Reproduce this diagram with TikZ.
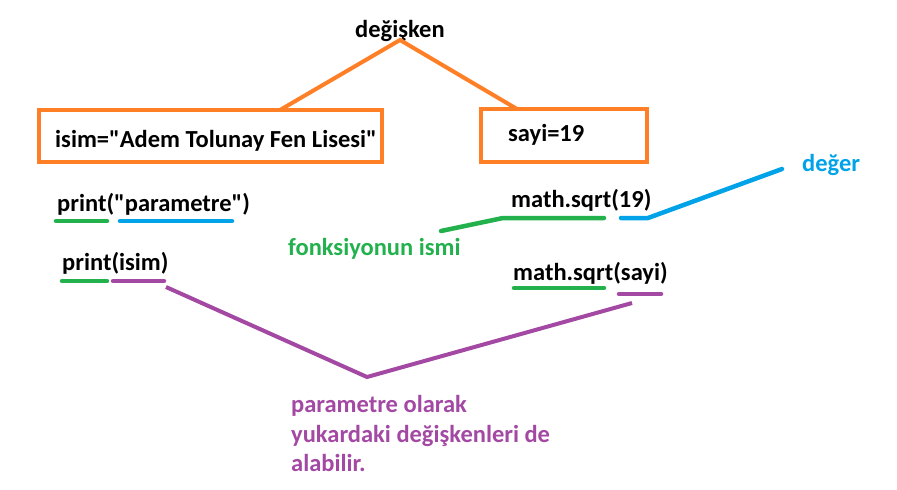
\documentclass[tikz,border=0pt]{standalone}
\usepackage{fontspec}
\setmainfont{Carlito}[Ligatures=TeXOff]
\definecolor{turuncu}{HTML}{FF7F27}
\definecolor{yesil}{HTML}{22B14C}
\definecolor{mavi}{HTML}{00A2E8}
\definecolor{mor}{HTML}{A349A4}

\begin{document}
\begin{tikzpicture}[x=1pt,y=-1pt,
	yazi/.style={font=\fontsize{24.5}{30}\selectfont\bfseries, inner sep=0pt, anchor=base west},
	kutu/.style={draw=turuncu, line width=4.5pt},
	cizgi/.style={line width=4.5pt, line cap=round, line join=round}]
			%%%%% START %%%%%
			\useasboundingbox[fill=white] (0,0) rectangle (897,490);
			
			% degisken ve kutular
			\node[yazi] (degisken) at (355,37) {değişken};
			\coordinate (tepe) at (400,40);
			\coordinate (kutuA1) at (39,110);
			\coordinate (kutuA2) at (382,162);
			\coordinate (kutuB1) at (481,109);
			\coordinate (kutuB2) at (647,162);
			\coordinate (solayak) at (280,110);
			\coordinate (sagayak) at (517,109);
			\draw[kutu] (kutuA1) rectangle (kutuA2);
			\draw[kutu] (kutuB1) rectangle (kutuB2);
			\draw[turuncu, line width=4pt] (solayak) -- (tepe) -- (sagayak);
			\node[yazi] (isim) at (55,147) {isim="Adem Tolunay Fen Lisesi"};
			\node[yazi] (sayi) at (508,141) {sayi=19};
			
			% print("parametre")
			\node[yazi] (print1) at (57,211) {print("parametre")};
			\coordinate (p1a) at (56,221);
			\coordinate (p1b) at (107,221);
			\coordinate (p1c) at (120,221);
			\coordinate (p1d) at (232,221);
			\draw[cizgi, yesil] (p1a) -- (p1b);
			\draw[cizgi, mavi] (p1c) -- (p1d);
			
			% math.sqrt(19)
			\node[yazi] (sqrt1) at (511,207) {math.sqrt(19)};
			\node[yazi, text=yesil] (fonk) at (288,255) {fonksiyonun ismi};
			\node[yazi, text=mavi] (deger) at (802,171) {değer};
			\coordinate (s1a) at (441,231);
			\coordinate (s1b) at (503,218);
			\coordinate (s1c) at (604,218);
			\coordinate (s1d) at (621,218);
			\coordinate (s1e) at (648,218);
			\coordinate (s1f) at (782,169);
			\draw[cizgi, yesil] (s1a) -- (s1b) -- (s1c);
			\draw[cizgi, mavi] (s1d) -- (s1e) -- (s1f);
			
			% print(isim)
			\node[yazi] (print2) at (62,270) {print(isim)};
			\coordinate (p2a) at (62,281);
			\coordinate (p2b) at (107,281);
			\coordinate (p2c) at (113,281);
			\coordinate (p2d) at (164,281);
			\draw[cizgi, yesil] (p2a) -- (p2b);
			\draw[cizgi, mor] (p2c) -- (p2d);
			
			% math.sqrt(sayi)
			\node[yazi] (sqrt2) at (513,280) {math.sqrt(sayi)};
			\coordinate (s2a) at (514,288);
			\coordinate (s2b) at (604,288);
			\coordinate (s2c) at (619,294);
			\coordinate (s2d) at (661,294);
			\draw[cizgi, yesil] (s2a) -- (s2b);
			\draw[cizgi, mor] (s2c) -- (s2d);
			
			% mor V
			\coordinate (v1) at (166,287);
			\coordinate (v2) at (367,377);
			\coordinate (v3) at (632,303);
			\draw[mor, line width=4pt] (v1) -- (v2) -- (v3);
			
			\node[yazi, text=mor] (acik1) at (291,412) {parametre olarak};
			\node[yazi, text=mor] (acik2) at (291,442) {yukardaki değişkenleri de};
			\node[yazi, text=mor] (acik3) at (291,471) {alabilir.};
			
			%%%%% END %%%%%
		\end{tikzpicture}
\end{document}
